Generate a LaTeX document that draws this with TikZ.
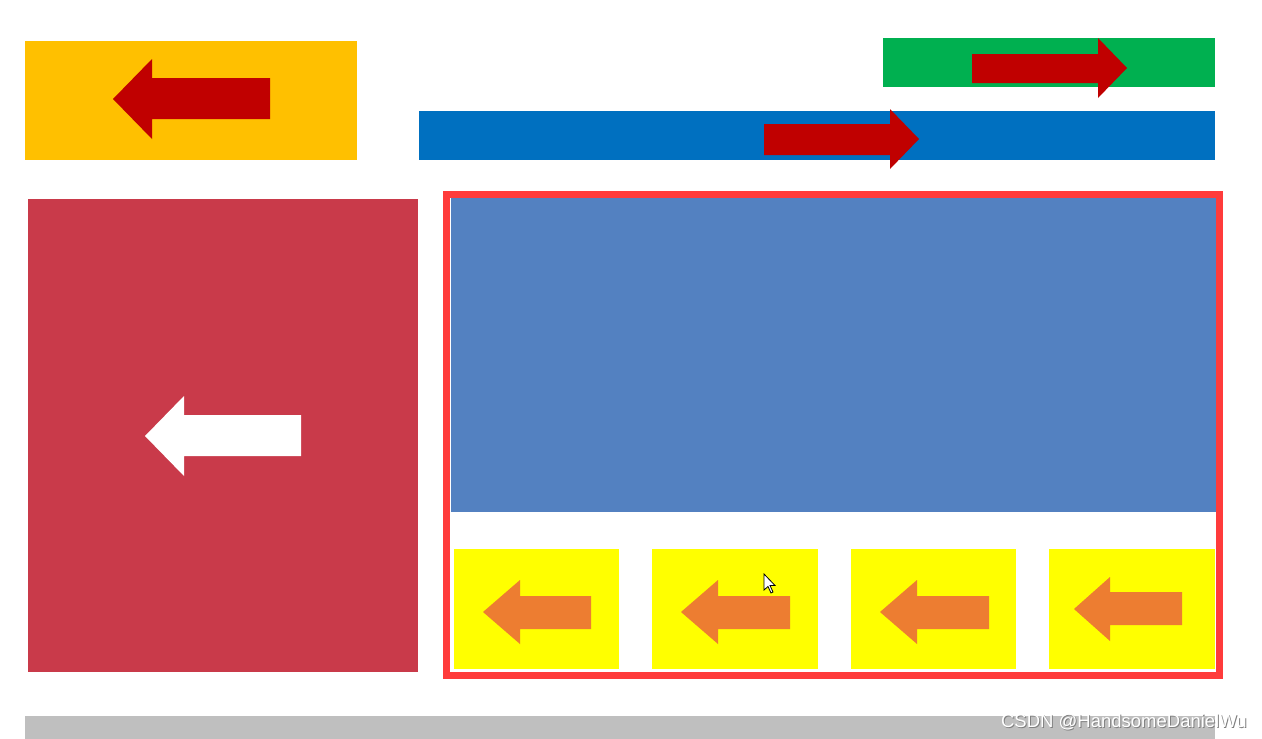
\documentclass[tikz,border=0pt]{standalone}
\usepackage{fontspec}
\newfontfamily\wmfont{Liberation Sans}
\usepackage{tikz}
\definecolor{amber}{HTML}{FFC000}
\definecolor{darkred}{HTML}{C00000}
\definecolor{grn}{HTML}{00B050}
\definecolor{blu}{HTML}{0070C0}
\definecolor{rose}{HTML}{C93A4A}
\definecolor{frame}{HTML}{FF3B3B}
\definecolor{panel}{HTML}{5381C1}
\definecolor{yel}{HTML}{FFFF00}
\definecolor{orng}{HTML}{ED7D31}
\definecolor{bar}{HTML}{BFBFBF}
\tikzset{wmtext/.style={anchor=east, inner sep=0pt, font=\wmfont\fontsize{18.5}{20}\selectfont}}

\begin{document}
\begin{tikzpicture}[x=1pt,y=-1pt]
	\useasboundingbox (0,0) rectangle (1262,739);
	% top row
	\fill[amber] (25,41) rectangle (357,160);
	\fill[darkred] (113,99) -- (152,59) -- (152,78) -- (270,78) -- (270,119) -- (152,119) -- (152,139) -- cycle;
	\fill[grn] (883,38) rectangle (1215,87);
	\fill[blu] (419,111) rectangle (1215,160);
	\fill[darkred] (1127,68) -- (1098,38) -- (1098,54) -- (972,54) -- (972,83) -- (1098,83) -- (1098,98) -- cycle;
	\fill[darkred] (919,139) -- (890,109) -- (890,124) -- (764,124) -- (764,155) -- (890,155) -- (890,169) -- cycle;
	% left panel
	\fill[rose] (28,199) rectangle (418,672);
	\fill[white] (145,436) -- (184,396) -- (184,415) -- (301,415) -- (301,456) -- (184,456) -- (184,476) -- cycle;
	% right panel
	\draw[frame, line width=7pt] (446.5,194.5) rectangle (1219.5,675.5);
	\fill[panel] (451,198) rectangle (1216,512);
	\fill[yel] (454,549) rectangle (619,669);
	\fill[yel] (652,549) rectangle (818,669);
	\fill[yel] (851,549) rectangle (1016,669);
	\fill[yel] (1049,549) rectangle (1215,669);
	\fill[orng] (483,612) -- (520,580) -- (520,596) -- (591,596) -- (591,629) -- (520,629) -- (520,644) -- cycle;
	\fill[orng] (681,612) -- (718,580) -- (718,596) -- (790,596) -- (790,629) -- (718,629) -- (718,644) -- cycle;
	\fill[orng] (880,612) -- (917,580) -- (917,596) -- (989,596) -- (989,629) -- (917,629) -- (917,644) -- cycle;
	\fill[orng] (1074,609) -- (1110,577) -- (1110,592) -- (1182,592) -- (1182,625) -- (1110,625) -- (1110,641) -- cycle;
	% mouse pointer
	\filldraw[fill=white, draw=black, line width=0.8pt] (764,574) -- (764,590) -- (768,586.5) -- (771,593) -- (773,592) -- (770,585.5) -- (775,585.5) -- cycle;
	% bottom bar
	\fill[bar] (25,716) rectangle (1215,739);
	\node[wmtext, text=gray] (wmshadow) at (1248,723) {CSDN @HandsomeDanielWu};
	\node[wmtext, text=white] (wm) at (1247,722) {CSDN @HandsomeDanielWu};
\end{tikzpicture}
\end{document}
